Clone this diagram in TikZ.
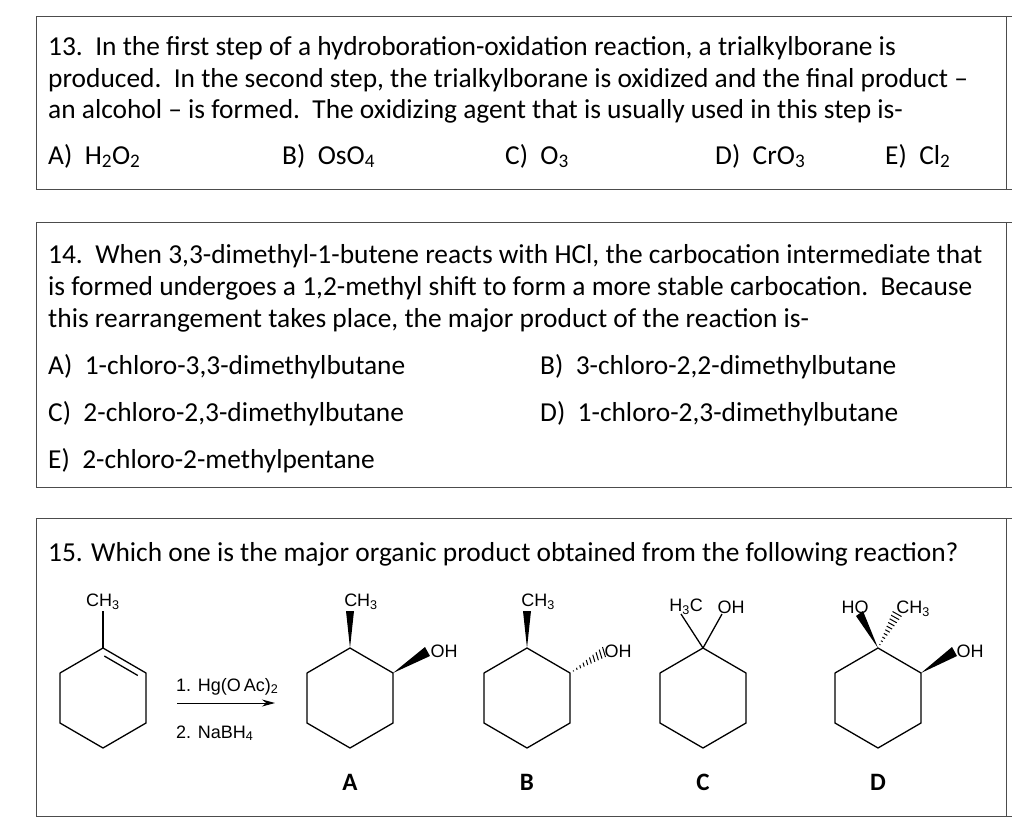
\documentclass[tikz,border=0pt]{standalone}
\usepackage{fontspec}
\usetikzlibrary{calc,arrows.meta}
\setmainfont{Carlito}
\newfontfamily\chemfont{Liberation Sans}
\begin{document}
\begin{tikzpicture}[x=1pt,y=-1pt,
  txt/.style={anchor=base west,inner sep=0pt,font=\fontsize{27.4}{32}\selectfont},
  chem/.style={inner sep=0pt,font=\chemfont\fontsize{18}{21}\selectfont},
  lbl/.style={inner sep=0pt,font=\bfseries\fontsize{25}{28}\selectfont},
  bond/.style={line width=1.3pt,line join=round},
  qbox/.style={draw=black!70,line width=0.8pt}]
\useasboundingbox (0,0) rectangle (1012,836);
% boxes
\draw[qbox] (36,16) rectangle (1006,189);
\draw[qbox] (1006,16) -- (1012,16) (1006,189) -- (1012,189);
\draw[qbox] (36,222) rectangle (1006,487);
\draw[qbox] (1006,222) -- (1012,222) (1006,487) -- (1012,487);
\draw[qbox] (36,518) rectangle (1006,816);
\draw[qbox] (1006,518) -- (1012,518) (1006,816) -- (1012,816);
% Q13
\node[txt] (q13a) at (48,55) {13.\ \ In the first step of a hydroboration-oxidation reaction, a trialkylborane is};
\node[txt] (q13b) at (48,87) {produced.\ \ In the second step, the trialkylborane is oxidized and the final product –};
\node[txt] (q13c) at (48,118) {an alcohol – is formed.\ \ The oxidizing agent that is usually used in this step is-};
\node[txt] (o13a) at (48,164) {A)\ \ H\textsubscript{2}O\textsubscript{2}};
\node[txt] (o13b) at (282,164) {B)\ \ OsO\textsubscript{4}};
\node[txt] (o13c) at (505,164) {C)\ \ O\textsubscript{3}};
\node[txt] (o13d) at (715,164) {D)\ \ CrO\textsubscript{3}};
\node[txt] (o13e) at (885,164) {E)\ \ Cl\textsubscript{2}};
% Q14
\node[txt] (q14a) at (48,263) {14.\ \ When 3,3-dimethyl-1-butene reacts with HCl, the carbocation intermediate that};
\node[txt] (q14b) at (48,295) {is formed undergoes a 1,2-methyl shift to form a more stable carbocation.\ \ Because};
\node[txt] (q14c) at (48,327) {this rearrangement takes place, the major product of the reaction is-};
\node[txt] (o14a) at (48,374) {A)\ \ 1-chloro-3,3-dimethylbutane};
\node[txt] (o14b) at (540,374) {B)\ \ 3-chloro-2,2-dimethylbutane};
\node[txt] (o14c) at (48,421) {C)\ \ 2-chloro-2,3-dimethylbutane};
\node[txt] (o14d) at (540,421) {D)\ \ 1-chloro-2,3-dimethylbutane};
\node[txt] (o14e) at (48,468) {E)\ \ 2-chloro-2-methylpentane};
% Q15
\node[txt] (q15) at (48,561) {15. Which one is the major organic product obtained from the following reaction?};
% rings
\foreach \n/\cx in {s/103,a/350,b/527,c/703,d/878}{
  \coordinate (\n1) at (\cx,648);
  \coordinate (\n2) at (\cx+43,673);
  \coordinate (\n3) at (\cx+43,723);
  \coordinate (\n4) at (\cx,748);
  \coordinate (\n5) at (\cx-43,723);
  \coordinate (\n6) at (\cx-43,673);
  \draw[bond] (\n1)--(\n2)--(\n3)--(\n4)--(\n5)--(\n6)--cycle;
}
% starting material
\draw[bond] ($(s1)!0.1!(s2)+(-3,5.5)$) -- ($(s1)!0.88!(s2)+(-3,5.5)$);
\node[chem] (sme) at (103,602) {CH\textsubscript{3}};
\draw[bond] (s1) -- (103,611);
% arrow
\coordinate (ar1) at (177,703);
\coordinate (ar2) at (275,703);
\draw[line width=1pt,-{Stealth[length=13pt,width=7pt]}] (ar1) -- (ar2);
\node[chem,anchor=base west] (r1) at (176,691) {1. Hg(O\,Ac)\textsubscript{2}};
\node[chem,anchor=base west] (r2) at (176,738) {2. NaBH\textsubscript{4}};
% A
\node[chem] (ame) at (361,602) {CH\textsubscript{3}};
\fill (a1) -- ($(350,611)+(-4,0)$) -- ($(350,611)+(4,0)$) -- cycle;
\node[chem] (aoh) at (444,651) {OH};
\fill (a2) -- (425,647) -- (430,656) -- cycle;
% B
\node[chem] (bme) at (538,602) {CH\textsubscript{3}};
\fill (b1) -- ($(527,611)+(-4,0)$) -- ($(527,611)+(4,0)$) -- cycle;
\node[chem] (boh) at (618,651) {OH};
\foreach \t in {0.1,0.2,...,1.0}{
  \draw[line width=1pt] ($(b2)!\t!(604,652)+(-1.5*\t,-5*\t)$) -- ($(b2)!\t!(604,652)+(1.5*\t,5*\t)$);
}
% C
\node[chem] (cme) at (686,607) {H\textsubscript{3}C};
\node[chem] (coh) at (731,607) {OH};
\draw[bond] (c1) -- (681,614);
\draw[bond] (c1) -- (722,614);
% D
\node[chem] (dho) at (855,607) {HO};
\node[chem] (dme) at (913,609) {CH\textsubscript{3}};
\fill (d1) -- (856,616) -- (863,611) -- cycle;
\foreach \t in {0.1,0.2,...,1.0}{
  \draw[line width=1pt] ($(d1)!\t!(897,614)+(-4.5*\t,-2.5*\t)$) -- ($(d1)!\t!(897,614)+(4.5*\t,2.5*\t)$);
}
\node[chem] (doh) at (970,651) {OH};
\fill (d2) -- (952,647) -- (957,656) -- cycle;
% labels
\node[lbl] (la) at (350,782) {A};
\node[lbl] (lb) at (527,782) {B};
\node[lbl] (lc) at (703,782) {C};
\node[lbl] (ld) at (878,782) {D};
\end{tikzpicture}
\end{document}
